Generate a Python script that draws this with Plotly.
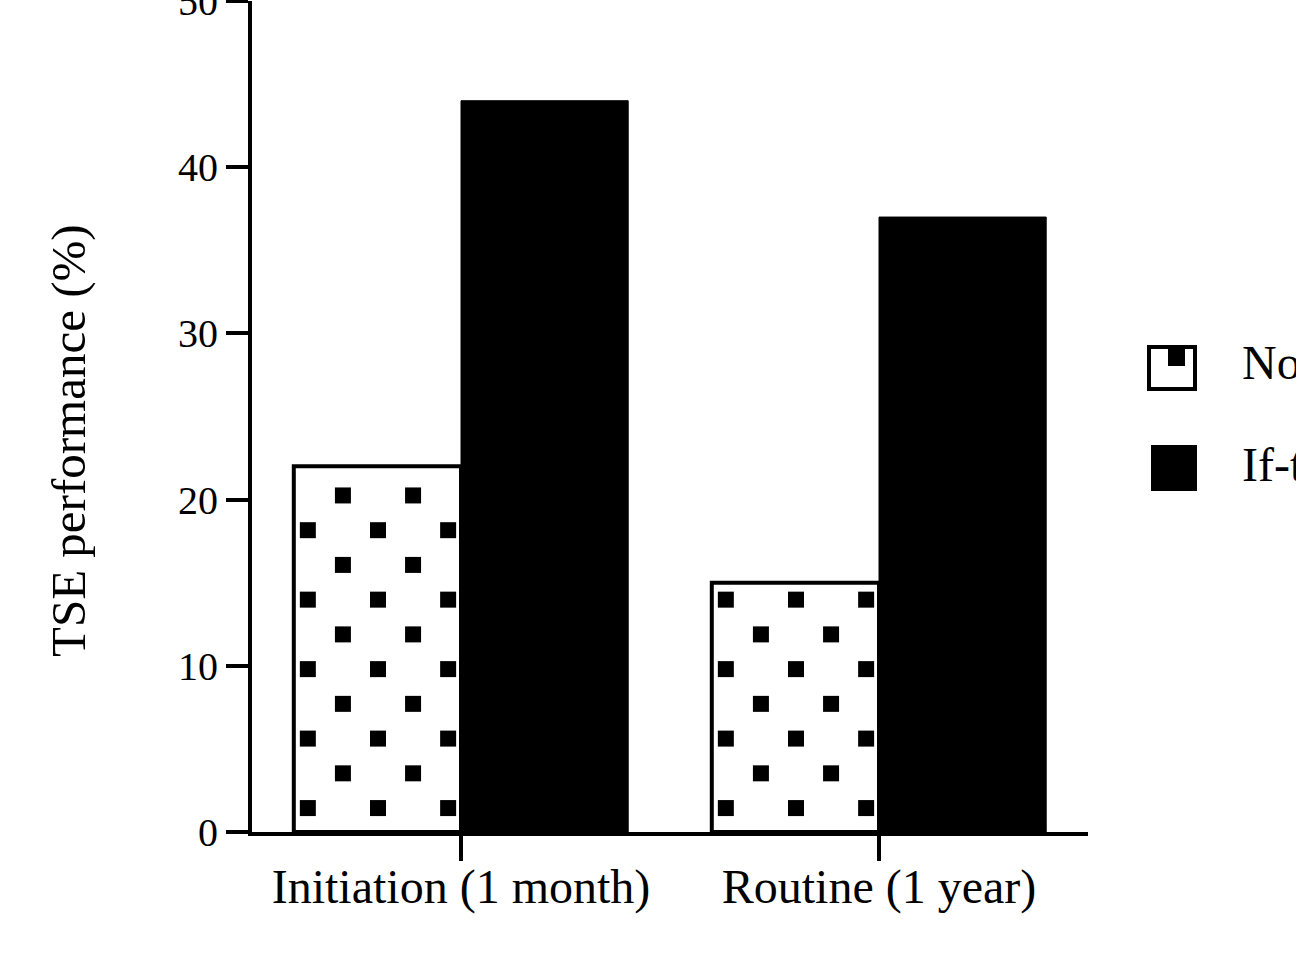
import numpy as np
import plotly.graph_objects as go

categories = ["Initiation (1 month)", "Routine (1 year)"]
no_plan = [22, 15]
if_then = [44, 37]
series_names = ["No plan", "If-then plan"]
y_ticks = [0, 10, 20, 30, 40, 50]
y_title = "TSE performance (%)"

FONT = "Liberation Serif"
xpos = np.arange(len(categories))
BW = 0.4

fig = go.Figure()
fig.add_trace(go.Bar(x=xpos, y=no_plan, width=BW, offset=-BW, name=series_names[0],
                     marker=dict(color="white", line=dict(color="black", width=4)),
                     showlegend=False))
fig.add_trace(go.Bar(x=xpos, y=if_then, width=BW, offset=0, name=series_names[1],
                     marker=dict(color="black", line=dict(color="black", width=1)),
                     showlegend=False))

# square-dot texture for the "No plan" bars (derived from bar extents)
dx, dy = 0.0839, 2.09
x0off, y0 = 0.0336, 1.44
dxs, dys = [], []
for c, v in zip(xpos, no_plan):
    j = 0
    while y0 + j * dy + 0.48 < v:
        for k in range(5):
            if (k % 2) == (j % 2):
                dxs.append(c - BW + x0off + k * dx)
                dys.append(y0 + j * dy)
        j += 1
fig.add_trace(go.Scatter(x=dxs, y=dys, mode="markers", showlegend=False, hoverinfo="skip",
                         marker=dict(symbol="square", size=16, color="black", line=dict(width=0))))

L, R, T, B = 252, 208, 1, 142
W, H = 1296, 974
pw, ph = W - L - R, H - T - B
def px(x): return (x - L) / pw
def py(y): return (H - B - y) / ph

shapes = [
    dict(type="rect", xref="paper", yref="paper", x0=px(1149), x1=px(1195), y0=py(389), y1=py(347),
         line=dict(color="black", width=4), fillcolor="white"),
    dict(type="rect", xref="paper", yref="paper", x0=px(1168), x1=px(1185), y0=py(366), y1=py(349),
         line=dict(width=0), fillcolor="black"),
    dict(type="rect", xref="paper", yref="paper", x0=px(1151), x1=px(1197), y0=py(491), y1=py(445),
         line=dict(width=0), fillcolor="black"),
]
annotations = [
    dict(text=series_names[0], xref="paper", yref="paper", x=px(1240), y=py(362), xanchor="left",
         yanchor="middle", showarrow=False, font=dict(family=FONT, size=48, color="black")),
    dict(text=series_names[1], xref="paper", yref="paper", x=px(1240), y=py(464), xanchor="left",
         yanchor="middle", showarrow=False, font=dict(family=FONT, size=48, color="black")),
    dict(text=y_title, xref="paper", yref="paper", x=px(68), y=py(441), xanchor="center",
         yanchor="middle", textangle=-90, showarrow=False,
         font=dict(family=FONT, size=49, color="black")),
]

fig.update_layout(
    width=W, height=H,
    margin=dict(l=L, r=R, t=T, b=B, autoexpand=False),
    plot_bgcolor="white", paper_bgcolor="white",
    barmode="overlay",
    shapes=shapes, annotations=annotations,
    font=dict(family=FONT, color="black"),
    xaxis=dict(range=[-0.5, 1.5], tickvals=list(xpos), ticktext=categories,
               showline=True, linecolor="black", linewidth=4, showgrid=False, zeroline=False,
               ticks="outside", ticklen=25, tickwidth=4, tickcolor="black",
               tickfont=dict(family=FONT, size=48, color="black"), ticklabelstandoff=-16),
    yaxis=dict(range=[0, 50], tickvals=y_ticks, showline=True, linecolor="black", linewidth=4,
               showgrid=False, zeroline=False, ticks="outside", ticklen=22, tickwidth=4,
               tickcolor="black", tickfont=dict(family=FONT, size=40, color="black"),
               ticklabelstandoff=0, ticklabeloverflow="allow"),
)

fig.write_html("out.html")
